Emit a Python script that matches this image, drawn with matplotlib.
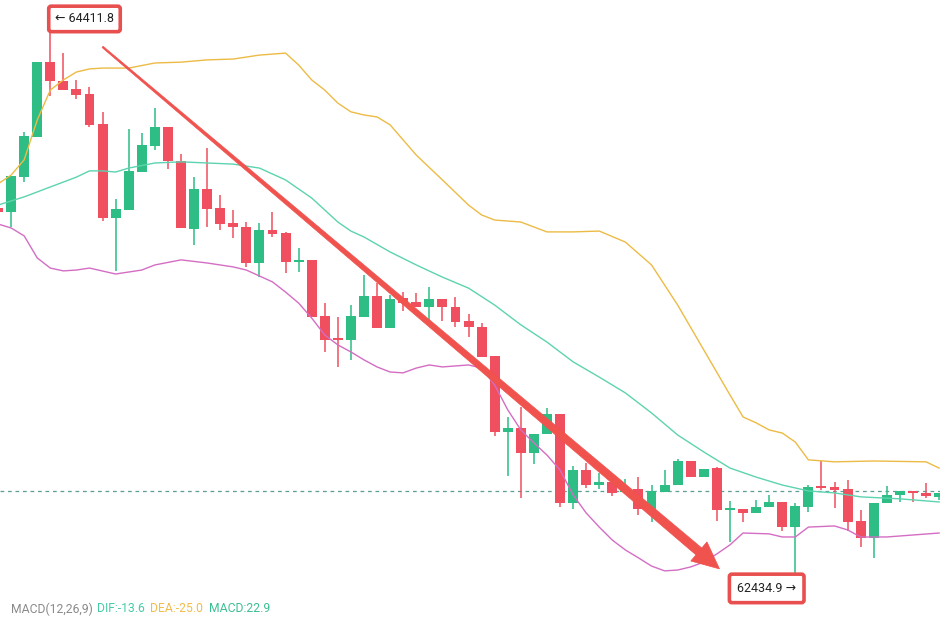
import matplotlib
matplotlib.use("Agg")
import matplotlib.pyplot as plt
import numpy as np
from matplotlib.patches import Polygon

plt.rcParams['font.family'] = ['Roboto', 'DejaVu Sans']

# candle data
opens = [63782, 63768, 63891, 64033, 64298, 64231, 64203, 64185, 64079, 63746,
         63775, 63909, 64001, 64068, 63948, 63707, 63849, 63782, 63729, 63714,
         63587, 63704, 63693, 63590, 63598, 63399, 63321, 63314, 63396, 63470,
         63357, 63463, 63449, 63431, 63460, 63431, 63382, 63360, 63258, 62989,
         63003, 62914, 62982, 63052, 62737, 62854, 62801, 62812, 62776, 62787,
         62713, 62776, 62801, 62886, 62829, 62861, 62713, 62716, 62702, 62723,
         62741, 62652, 62723, 62798, 62794, 62787, 62674, 62614, 62737, 62766,
         62780, 62773, 62759]
closes = [63768, 63895, 64037, 64298, 64231, 64199, 64182, 64076, 63746, 63778,
          63913, 64005, 64068, 63948, 63711, 63849, 63778, 63725, 63714, 63587,
          63704, 63690, 63590, 63598, 63396, 63314, 63314, 63399, 63470, 63357,
          63460, 63445, 63431, 63460, 63431, 63378, 63360, 63254, 62989, 63003,
          62914, 62982, 63052, 62737, 62854, 62801, 62812, 62773, 62790, 62716,
          62780, 62801, 62886, 62829, 62858, 62713, 62720, 62702, 62723, 62741,
          62652, 62727, 62794, 62790, 62783, 62670, 62614, 62737, 62766, 62780,
          62773, 62762, 62773]
highs = [63785, 63895, 64051, 64298, 64411.8, 64330, 64235, 64210, 64122, 63814,
         64061, 64047, 64136, 64068, 63973, 63891, 63994, 63828, 63775, 63732,
         63729, 63768, 63697, 63640, 63598, 63445, 63396, 63438, 63544, 63516,
         63474, 63484, 63481, 63502, 63460, 63467, 63406, 63375, 63258, 63042,
         63077, 62982, 63074, 63052, 62868, 62879, 62844, 62812, 62822, 62829,
         62801, 62854, 62893, 62886, 62858, 62865, 62744, 62716, 62748, 62766,
         62741, 62737, 62801, 62886, 62812, 62819, 62713, 62737, 62798, 62780,
         62780, 62808, 62773]
lows = [63764, 63714, 63874, 64033, 64178, 64199, 64168, 64068, 63736, 63559,
        63775, 63909, 63987, 63920, 63711, 63651, 63714, 63704, 63675, 63573,
        63537, 63679, 63552, 63555, 63396, 63272, 63219, 63244, 63396, 63357,
        63357, 63417, 63431, 63382, 63382, 63360, 63325, 63254, 62975, 62833,
        62755, 62875, 62982, 62723, 62716, 62790, 62787, 62762, 62769, 62695,
        62670, 62776, 62801, 62829, 62829, 62674, 62599, 62670, 62702, 62723,
        62638, 62434.9, 62705, 62783, 62720, 62638, 62582, 62543, 62737, 62741,
        62741, 62755, 62748]

# Bollinger bands (candle index, value)
upper_idx = [0, 1, 2, 3, 4, 5, 6, 7, 8, 10, 12, 14, 16, 18, 20, 22, 23, 24, 25,
             26, 27, 28, 29, 30, 32, 34, 36, 37, 38, 40, 42, 44, 46, 48, 50, 52,
             54, 56, 57, 58, 59, 60, 61, 62, 64, 67, 71, 72]
upper_val = [63867, 63898, 63952, 64093, 64199, 64235, 64263, 64274, 64277, 64277,
             64295, 64298, 64306, 64309, 64323, 64330, 64288, 64235, 64199, 64153,
             64122, 64111, 64104, 64076, 63969, 63881, 63792, 63757, 63739, 63732,
             63697, 63697, 63700, 63661, 63580, 63438, 63279, 63120, 63042, 63021,
             62996, 62985, 62953, 62890, 62883, 62886, 62883, 62861]
mid_idx = [0, 2, 4, 6, 7, 8, 9, 10, 12, 14, 16, 18, 20, 22, 24, 26, 27, 28, 30,
           32, 34, 36, 38, 40, 42, 44, 46, 48, 50, 52, 54, 56, 58, 60, 62, 64,
           66, 69, 72]
mid_val = [63792, 63821, 63856, 63891, 63913, 63913, 63909, 63923, 63941, 63945,
           63941, 63937, 63923, 63881, 63817, 63732, 63700, 63679, 63626, 63580,
           63537, 63498, 63438, 63368, 63307, 63237, 63183, 63127, 63056, 62978,
           62918, 62861, 62829, 62801, 62780, 62773, 62759, 62752, 62741]
lower_idx = [0, 1, 2, 3, 4, 5, 6, 7, 9, 11, 12, 14, 16, 18, 19, 20, 21, 22, 23,
             24, 25, 26, 27, 28, 29, 30, 31, 32, 33, 34, 36, 37, 38, 39, 40, 41,
             42, 43, 44, 45, 46, 47, 48, 49, 50, 51, 52, 53, 54, 55, 56, 57, 59,
             60, 61, 62, 64, 65, 66, 68, 72]
lower_val = [63725, 63711, 63683, 63605, 63569, 63559, 63562, 63569, 63548, 63562,
             63580, 63598, 63587, 63573, 63562, 63541, 63520, 63484, 63445, 63392,
             63332, 63297, 63272, 63244, 63219, 63201, 63198, 63215, 63226, 63219,
             63226, 63215, 63155, 63067, 62996, 62950, 62907, 62854, 62766, 62702,
             62652, 62606, 62571, 62543, 62514, 62497, 62500, 62511, 62528, 62557,
             62589, 62631, 62628, 62617, 62617, 62652, 62656, 62642, 62617, 62617,
             62631]

last_price = 62778
arrow_from = (8.0, 64352)
arrow_to = (55.2, 62504)

macd_labels = ['MACD(12,26,9)', 'DIF:-13.6', 'DEA:-25.0', 'MACD:22.9']

up_col = '#2EBD85'
down_col = '#EF4F5E'
arrow_col = '#F0524E'

fig = plt.figure(figsize=(9.4, 6.22), dpi=100)
ax = fig.add_axes([0, 0, 1, 1])
ax.set_xlim(0.153, 72.07)
ax.set_ylim(62316, 64518)
ax.axis('off')

x = np.arange(len(opens))
o = np.array(opens, dtype=float)
c = np.array(closes, dtype=float)
h = np.array(highs, dtype=float)
l = np.array(lows, dtype=float)
colors = np.where(c >= o, up_col, down_col)

ax.vlines(x, l, h, colors=colors, linewidth=1.1, zorder=2)
body_bottom = np.minimum(o, c)
body_h = np.maximum(np.abs(c - o), 4)
ax.bar(x, body_h, bottom=body_bottom, width=0.76, color=colors, zorder=3)

ax.plot(upper_idx, upper_val, color='#EDBB45', lw=1.0, zorder=4)
ax.plot(mid_idx, mid_val, color='#5DD3B0', lw=1.0, zorder=4)
ax.plot(lower_idx, lower_val, color='#D46DC4', lw=1.0, zorder=4)

ax.axhline(last_price, color='#5F9E94', lw=0.9, ls=(0, (3, 3)), zorder=1)

# tapered trend arrow, built in pixel space
fig.canvas.draw()
p0 = ax.transData.transform(arrow_from)
p1 = ax.transData.transform(arrow_to)
u = (p1 - p0) / np.linalg.norm(p1 - p0)
n = np.array([-u[1], u[0]])
head_len, head_half = 27, 12.5
w0, w1 = 0.8, 4.5
base = p1 - u * head_len
pts = [p0 + n * w0, base + n * w1, base + n * head_half, p1,
       base - n * head_half, base - n * w1, p0 - n * w0]
pts = ax.transData.inverted().transform(np.array(pts))
ax.add_patch(Polygon(pts, closed=True, fc=arrow_col, ec=arrow_col, lw=0.5, zorder=6))

# high / low labels
box = dict(boxstyle='round,pad=0.5,rounding_size=0.2', fc='white',
           ec='#E8504F', lw=2.6)
ax.text(4.36, 64451, '\u2190 64411.8', ha='left', va='center', fontsize=9,
        color='#222222', zorder=7, bbox=box)
box2 = dict(box, boxstyle='round,pad=0.62,rounding_size=0.2')
ax.text(56.55, 62434.9, '62434.9 \u2192', ha='left', va='center', fontsize=9,
        color='#222222', zorder=7, bbox=box2)

# MACD legend line at the bottom
macd_x = [11, 97, 150, 209]
macd_cols = ['#8A8A8A', '#46CBA6', '#F2BC4A', '#3DBF93']
for lab, px, col in zip(macd_labels, macd_x, macd_cols):
    fig.text(px / 940, 1 - 609 / 622, lab, fontsize=8.7, color=col,
             va='center', ha='left')

fig.savefig('out.png', dpi=100)
